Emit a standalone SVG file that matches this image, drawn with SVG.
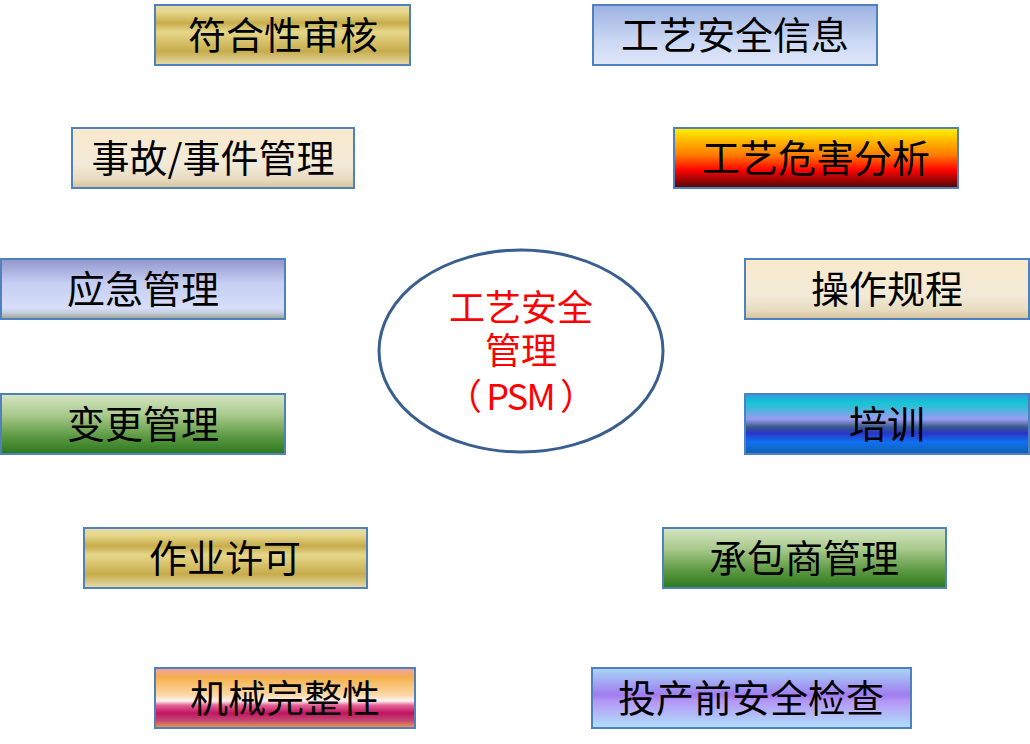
<svg xmlns="http://www.w3.org/2000/svg" width="1030" height="744" viewBox="0 0 1030 744">
<style>
.box{stroke:#4f81bd;stroke-width:2}
.lbl{font-family:"Noto Sans CJK SC","Noto Sans",sans-serif;font-size:38px;fill:#000;text-anchor:middle}
.ctr{font-family:"Noto Sans CJK SC","Noto Sans",sans-serif;font-size:36px;fill:#ff0000;text-anchor:middle}
</style>
<defs>
<linearGradient id="gold" x1="0" y1="0" x2="0" y2="1">
<stop offset="0" stop-color="#e6dcac"/><stop offset="0.12" stop-color="#e6d78a"/><stop offset="0.3" stop-color="#c7ac4c"/><stop offset="0.45" stop-color="#e6d78a"/><stop offset="0.77" stop-color="#c7ac4c"/><stop offset="1" stop-color="#e6dcac"/>
</linearGradient>
<linearGradient id="lblue" x1="0" y1="0" x2="0" y2="1">
<stop offset="0" stop-color="#9cb2e2"/><stop offset="0.6" stop-color="#cbd8f4"/><stop offset="1" stop-color="#dfe7f9"/>
</linearGradient>
<linearGradient id="beige" x1="0" y1="0" x2="0" y2="1">
<stop offset="0" stop-color="#f9e9cc"/><stop offset="0.6" stop-color="#f2ead8"/><stop offset="0.85" stop-color="#e8dcc0"/><stop offset="1" stop-color="#d4c29a"/>
</linearGradient>
<linearGradient id="fire" x1="0" y1="0" x2="0" y2="1">
<stop offset="0" stop-color="#fff200"/><stop offset="0.45" stop-color="#ff7a00"/><stop offset="0.7" stop-color="#ff0300"/><stop offset="1" stop-color="#4d0808"/>
</linearGradient>
<linearGradient id="emerg" x1="0" y1="0" x2="0" y2="1">
<stop offset="0" stop-color="#9296cc"/><stop offset="0.4" stop-color="#c6cef2"/><stop offset="0.82" stop-color="#d6defa"/><stop offset="0.9" stop-color="#c4ccdc"/><stop offset="1" stop-color="#9aa088"/>
</linearGradient>
<linearGradient id="green" x1="0" y1="0" x2="0" y2="1">
<stop offset="0" stop-color="#d6e6c4"/><stop offset="0.35" stop-color="#a9c98c"/><stop offset="0.7" stop-color="#5e9a44"/><stop offset="1" stop-color="#2a781c"/>
</linearGradient>
<linearGradient id="ocean" x1="0" y1="0" x2="0" y2="1">
<stop offset="0" stop-color="#2a9ce6"/><stop offset="0.15" stop-color="#14c6d2"/><stop offset="0.42" stop-color="#9a9cf0"/><stop offset="0.55" stop-color="#3a5a8a"/><stop offset="0.65" stop-color="#2a34c8"/><stop offset="0.8" stop-color="#1070f0"/><stop offset="1" stop-color="#1060b0"/>
</linearGradient>
<linearGradient id="sunset" x1="0" y1="0" x2="0" y2="1">
<stop offset="0" stop-color="#f0a0b4"/><stop offset="0.15" stop-color="#f4b048"/><stop offset="0.45" stop-color="#fcd8a8"/><stop offset="0.55" stop-color="#fff2f2"/><stop offset="0.62" stop-color="#e46494"/><stop offset="0.75" stop-color="#c01462"/><stop offset="0.88" stop-color="#c44a72"/><stop offset="1" stop-color="#f0a044"/>
</linearGradient>
<linearGradient id="violet" x1="0" y1="0" x2="0" y2="1">
<stop offset="0" stop-color="#a8d6f8"/><stop offset="0.45" stop-color="#a07cf0"/><stop offset="0.55" stop-color="#b496f6"/><stop offset="1" stop-color="#b0e0fa"/>
</linearGradient>
</defs>
<g id="connectors"/>
<g id="center">
<ellipse cx="521" cy="351" rx="142" ry="101" fill="#ffffff" stroke="#3a5f8f" stroke-width="3"/>
<text class="ctr" x="521" y="321">工艺安全</text>
<text class="ctr" x="521" y="364">管理</text>
<text class="ctr" x="521" y="410" textLength="150" lengthAdjust="spacing">（ PSM ）</text>
</g>
<g id="n1"><rect class="box" x="155" y="5" width="255" height="60" fill="url(#gold)"/><text class="lbl" x="283" y="49">符合性审核</text></g>
<g id="n2"><rect class="box" x="593" y="5" width="284" height="60" fill="url(#lblue)"/><text class="lbl" x="735" y="49">工艺安全信息</text></g>
<g id="n3"><rect class="box" x="72" y="128" width="282" height="60" fill="url(#beige)"/><text class="lbl" x="213" y="172">事故/事件管理</text></g>
<g id="n4"><rect class="box" x="674" y="128" width="284" height="60" fill="url(#fire)"/><text class="lbl" x="816" y="172">工艺危害分析</text></g>
<g id="n5"><rect class="box" x="1" y="259" width="284" height="60" fill="url(#emerg)"/><text class="lbl" x="143" y="303">应急管理</text></g>
<g id="n6"><rect class="box" x="745" y="259" width="284" height="60" fill="url(#beige)"/><text class="lbl" x="887" y="303">操作规程</text></g>
<g id="n7"><rect class="box" x="1" y="394" width="284" height="60" fill="url(#green)"/><text class="lbl" x="143" y="438">变更管理</text></g>
<g id="n8"><rect class="box" x="745" y="394" width="284" height="60" fill="url(#ocean)"/><text class="lbl" x="887" y="438">培训</text></g>
<g id="n9"><rect class="box" x="84" y="528" width="283" height="60" fill="url(#gold)"/><text class="lbl" x="225" y="572">作业许可</text></g>
<g id="n10"><rect class="box" x="663" y="528" width="283" height="60" fill="url(#green)"/><text class="lbl" x="804" y="572">承包商管理</text></g>
<g id="n11"><rect class="box" x="155" y="668" width="260" height="60" fill="url(#sunset)"/><text class="lbl" x="285" y="712">机械完整性</text></g>
<g id="n12"><rect class="box" x="592" y="668" width="319" height="60" fill="url(#violet)"/><text class="lbl" x="751" y="712">投产前安全检查</text></g>
</svg>
